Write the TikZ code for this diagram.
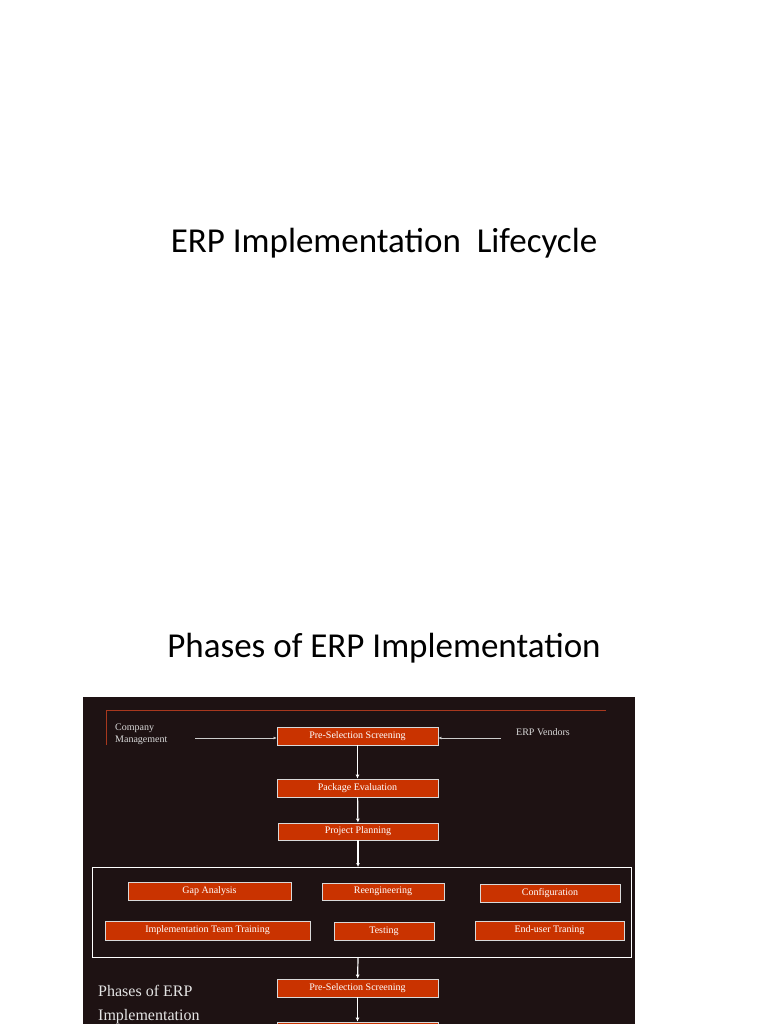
\documentclass[tikz,border=0pt]{standalone}
\usepackage{fontspec}
\setmainfont{Liberation Serif}
\newfontfamily\titlefont{Carlito}
\begin{document}
\begin{tikzpicture}[x=1pt,y=-1pt,
  phase/.style={draw=white!85!black,line width=0.8pt,fill=boxred,text=white,inner sep=0pt,font=\fontsize{10}{12}\selectfont},
  flow/.style={white,line width=1.2pt,-{Latex[length=4pt,width=4pt]}},
  thin/.style={white!80!black,line width=0.5pt,-{Latex[length=3pt,width=3pt]}}]
\usetikzlibrary{arrows.meta}
\definecolor{panel}{HTML}{1E1213}
\definecolor{boxred}{HTML}{C93300}
\definecolor{lred}{HTML}{A8381E}
\useasboundingbox (0,0) rectangle (768,1024);
\fill[white] (0,0) rectangle (768,1024);
\clip (0,0) rectangle (768,1024);
\node[font=\titlefont\fontsize{35}{40}\selectfont] (t1) at (384,243) {ERP Implementation\ \ Lifecycle};
\node[font=\titlefont\fontsize{35}{40}\selectfont] (t2) at (384,648) {Phases of ERP Implementation};
\fill[panel] (83,697) rectangle (635,1030);
\draw[lred,line width=0.8pt] (106,745) -- (106,710) -- (606,710);
\node[anchor=west,align=left,text=white!85!black,font=\fontsize{10}{12}\selectfont,inner sep=0pt] (cm) at (115,734) {Company\\Management};
\node[anchor=west,text=white!85!black,font=\fontsize{10}{12}\selectfont,inner sep=0pt] (ev) at (516,732) {ERP Vendors};
\node[phase,minimum width=161pt,minimum height=18pt] (ps) at (357.5,736) {Pre-Selection Screening};
\node[phase,minimum width=161pt,minimum height=18pt] (pe) at (357.5,788) {Package Evaluation};
\node[phase,minimum width=160pt,minimum height=17pt] (pp) at (358,831.5) {Project Planning};
\draw[white,line width=0.8pt] (92,867) rectangle (631,957);
\coordinate (ft) at (358,867);
\coordinate (fb) at (358,957);
\node[phase,minimum width=163pt,minimum height=18pt] (ga) at (209.5,891) {Gap Analysis};
\node[phase,minimum width=122pt,minimum height=17pt] (re) at (383,891.5) {Reengineering};
\node[phase,minimum width=140pt,minimum height=18pt] (co) at (550,893) {Configuration};
\node[phase,minimum width=205pt,minimum height=19pt] (it) at (207.5,930.5) {Implementation Team Training};
\node[phase,minimum width=100pt,minimum height=18pt] (te) at (384,931) {Testing};
\node[phase,minimum width=149pt,minimum height=19pt] (eu) at (549.5,930.5) {End-user Traning};
\node[phase,minimum width=161pt,minimum height=18pt] (ps2) at (357.5,988) {Pre-Selection Screening};
\node[phase,minimum width=161pt,minimum height=18pt] (nx) at (357.5,1031) {};
\node[anchor=north west,align=left,text=white!90!black,font=\fontsize{16}{24}\selectfont,inner sep=0pt] (ph) at (98,985) {Phases of ERP\\Implementation};
\coordinate (cma) at (195,738);
\coordinate (eva) at (501,738);
\draw[thin] (cma) -- (ps.west|-cma);
\draw[thin] (eva) -- (ps.east|-eva);
\draw[flow] (ps) -- (pe);
\draw[flow] (pe) -- (pp);
\draw[flow] (pp) -- (ft);
\draw[flow] (fb) -- (ps2);
\draw[flow] (ps2) -- (nx);
\end{tikzpicture}
\end{document}
